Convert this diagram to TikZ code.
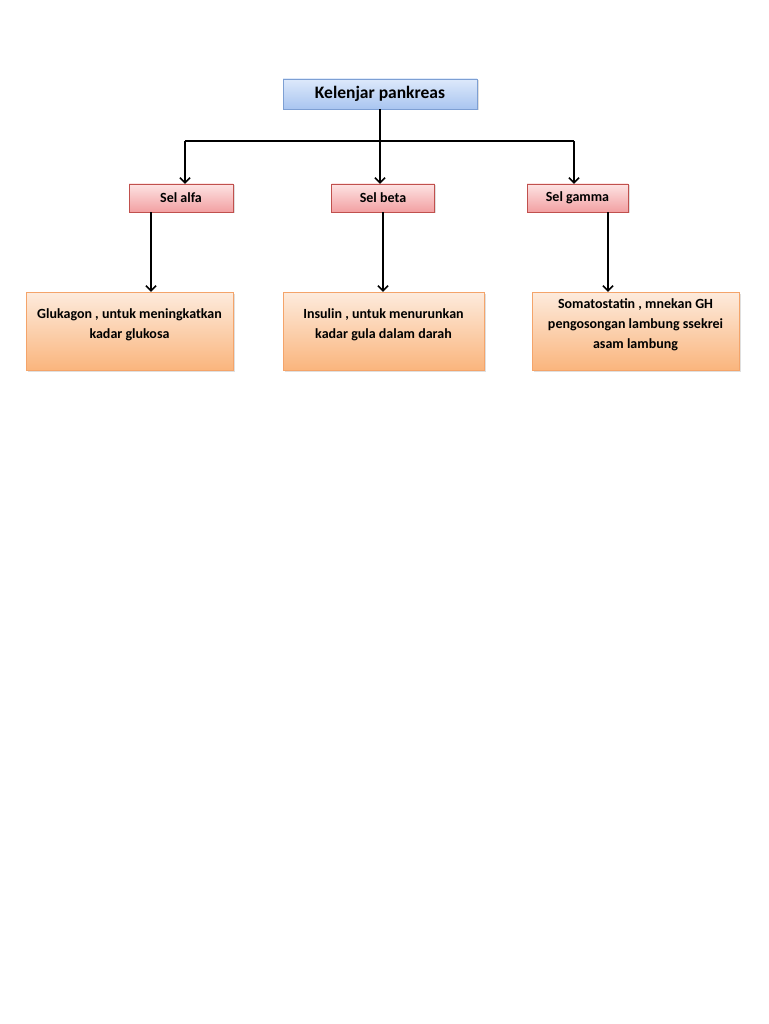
\documentclass[tikz,border=0pt]{standalone}
\usepackage{fontspec}
\setmainfont{Carlito}
\usetikzlibrary{shapes, arrows.meta, positioning, calc, shadows}

\definecolor{bluetop}{HTML}{DDE9FB}
\definecolor{bluebot}{HTML}{A9C5F0}
\definecolor{blueline}{HTML}{7D9FD3}
\definecolor{redtop}{HTML}{FDE3E3}
\definecolor{redbot}{HTML}{F2A0A2}
\definecolor{redline}{HTML}{C0504D}
\definecolor{orgtop}{HTML}{FDEBDD}
\definecolor{orgbot}{HTML}{FAB57D}
\definecolor{orgline}{HTML}{F4A46A}

\begin{document}
\begin{tikzpicture}[x=1pt, y=-1pt,
    mainbox/.style={rectangle, draw=blueline, top color=bluetop, bottom color=bluebot, minimum width=194pt, minimum height=30pt, font=\bfseries\fontsize{17.5}{20}\selectfont, drop shadow={opacity=0.25, shadow xshift=1.5pt, shadow yshift=-1.5pt}},
    cellbox/.style={rectangle, draw=redline, top color=redtop, bottom color=redbot, minimum height=28pt, font=\bfseries\fontsize{14}{16}\selectfont, drop shadow={opacity=0.25, shadow xshift=1.5pt, shadow yshift=-1.5pt}},
    hormbox/.style={rectangle, draw=orgline, top color=orgtop, bottom color=orgbot, minimum height=78pt, align=center, font=\bfseries\fontsize{14}{20}\selectfont, execute at end node={\rule[-15pt]{0pt}{15pt}}, drop shadow={opacity=0.25, shadow xshift=1.5pt, shadow yshift=-1.5pt}},
    arrow/.style={line width=1.6pt, -{Straight Barb[length=5pt, width=10pt]}}]
    \useasboundingbox (0,0) rectangle (768,1024);
    \node [mainbox] (pank) at (380,94) {Kelenjar pankreas};
    \node [cellbox, minimum width=104pt] (alfa) at (181,198) {Sel alfa};
    \node [cellbox, minimum width=103pt] (beta) at (383,198) {Sel beta};
    \node [cellbox, minimum width=101pt] (gamma) at (577.5,198) {Sel gamma};
    \node [hormbox, minimum width=207pt] (glu) at (129.5,331) {Glukagon , untuk meningkatkan\\ kadar glukosa};
    \node [hormbox, minimum width=201pt] (ins) at (383.5,331) {Insulin , untuk menurunkan\\ kadar gula dalam darah};
    \node [hormbox, minimum width=207pt] (soma) at (635.5,331) {Somatostatin , mnekan GH\\ pengosongan lambung ssekrei\\ asam lambung};
    \coordinate (busL) at (185,141);
    \coordinate (busR) at (574,141);
    \draw [line width=1.6pt] (busL) -- (busR);
    \draw [arrow] (pank.south) -- (pank.south |- beta.north);
    \draw [arrow] (busL) -- (busL |- alfa.north);
    \draw [arrow] (busR) -- (busR |- gamma.north);
    \draw [arrow] ([xshift=-30pt]alfa.south) -- ([xshift=-30pt]alfa.south |- glu.north);
    \draw [arrow] (beta.south) -- (beta.south |- ins.north);
    \draw [arrow] ([xshift=30.5pt]gamma.south) -- ([xshift=30.5pt]gamma.south |- soma.north);
\end{tikzpicture}
\end{document}
